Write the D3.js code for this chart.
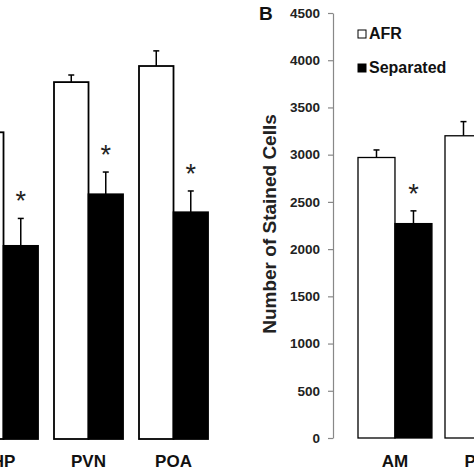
<!DOCTYPE html>
<html>
<head>
<meta charset="utf-8">
<script src="https://cdn.jsdelivr.net/npm/d3@7"></script>
<style>
 html, body { margin: 0; padding: 0; background: #fff; }
 svg { display: block; font-family: "Liberation Sans", Arial, sans-serif; }
</style>
</head>
<body>
<div id="chart"></div>
<script>
// panel A (left, cropped)
const regionsA = ["HP", "PVN", "POA"];
const afrA = [3240, 3770, 3940];
const afrErrA = [0, 75, 160];
const sepA = [2040, 2585, 2395];
const sepErrA = [290, 235, 225];

// panel B (right, cropped)
const regionsB = ["AM", "PVN"];
const afrB = [2970, 3200];
const afrErrB = [80, 150];
const sepB = [2270, 2500];
const sepErrB = [135, 150];

const groups = ["AFR", "Separated"];
const yTicks = [0, 500, 1000, 1500, 2000, 2500, 3000, 3500, 4000, 4500];

const width = 474, height = 474;

const svg = d3.select("#chart")
 .append("svg")
 .attr("width", width)
 .attr("height", height)
 .attr("viewBox", `0 0 ${width} ${height}`);

const drawPanel = (g, cats, afr, afrErr, sep, sepErr, x, y, stroke) => {
 const inner = d3.scaleBand().domain(groups).range([0, x.bandwidth()]);
 const rows = cats.map((c, i) => ({
  cat: c,
  vals: [
   { key: "AFR", v: afr[i], e: afrErr[i] },
   { key: "Separated", v: sep[i], e: sepErr[i] }
  ]
 }));

 const grp = g.selectAll(".grp").data(rows).enter()
  .append("g")
  .attr("transform", (d) => `translate(${x(d.cat)},0)`);

 const bars = grp.selectAll(".bar").data((d) => d.vals).enter();

 // error bars (upper only) drawn before bars
 bars.append("line")
  .attr("x1", (d) => inner(d.key) + inner.bandwidth() / 2)
  .attr("x2", (d) => inner(d.key) + inner.bandwidth() / 2)
  .attr("y1", (d) => y(d.v))
  .attr("y2", (d) => y(d.v + d.e))
  .attr("stroke", "#000")
  .attr("stroke-width", 1.5);
 bars.filter((d) => d.e > 0).append("line")
  .attr("x1", (d) => inner(d.key) + inner.bandwidth() / 2 - 3)
  .attr("x2", (d) => inner(d.key) + inner.bandwidth() / 2 + 3)
  .attr("y1", (d) => y(d.v + d.e))
  .attr("y2", (d) => y(d.v + d.e))
  .attr("stroke", "#000")
  .attr("stroke-width", 1.5);

 bars.append("rect")
  .attr("x", (d) => inner(d.key))
  .attr("width", inner.bandwidth())
  .attr("y", (d) => y(d.v))
  .attr("height", (d) => y(0) - y(d.v))
  .attr("fill", (d) => (d.key === "AFR" ? "#fff" : "#000"))
  .attr("stroke", "#000")
  .attr("stroke-width", stroke);

 // significance marks over Separated bars
 bars.filter((d) => d.key === "Separated").append("text")
  .attr("x", (d) => inner(d.key) + inner.bandwidth() / 2)
  .attr("y", (d) => y(d.v + d.e) - 8)
  .attr("text-anchor", "middle")
  .style("font-size", "27px")
  .style("fill", "#222")
  .text("*");

 g.selectAll(".cat").data(cats).enter()
  .append("text")
  .attr("x", (d) => x(d) + x.bandwidth() / 2)
  .attr("y", 467)
  .attr("text-anchor", "middle")
  .style("font-size", "17px")
  .style("font-weight", "bold")
  .style("fill", "#111")
  .text((d) => d);
};

// panel A
const yA = d3.scaleLinear().domain([0, 4500]).range([439, 13]);
const xA = d3.scaleBand().domain(regionsA).range([-31, -31 + 85 * (3 - 0.188)]).paddingInner(0.188).paddingOuter(0);
const gA = svg.append("g");
drawPanel(gA, regionsA, afrA, afrErrA, sepA, sepErrA, xA, yA, 1.8);

// panel B
const yB = d3.scaleLinear().domain([0, 4500]).range([438, 13]);
const xB = d3.scaleBand().domain(regionsB).range([358, 358 + 87 * (2 - 0.15)]).paddingInner(0.15).paddingOuter(0);
const gB = svg.append("g");
drawPanel(gB, regionsB, afrB, afrErrB, sepB, sepErrB, xB, yB, 1.3);

// y axis B
const axisB = gB.append("g")
 .attr("transform", "translate(333,0)")
 .call(d3.axisLeft(yB).tickValues(yTicks).tickFormat(d3.format("d")).tickSize(5).tickPadding(8).tickSizeOuter(0));
axisB.select(".domain").attr("stroke", "#888").attr("stroke-width", 1.2);
axisB.selectAll(".tick line").attr("stroke", "#888").attr("stroke-width", 1.2);
axisB.selectAll(".tick text")
 .style("font-size", "13.5px")
 .style("font-weight", "bold")
 .style("font-family", "'Liberation Sans', Arial, sans-serif")
 .attr("fill", "#222");

gB.append("text")
 .attr("transform", "translate(276,224) rotate(-90)")
 .attr("text-anchor", "middle")
 .style("font-size", "19px")
 .style("font-weight", "bold")
 .style("fill", "#222")
 .text("Number of Stained Cells");

// panel letter
svg.append("text")
 .attr("x", 259)
 .attr("y", 20)
 .style("font-size", "19px")
 .style("font-weight", "bold")
 .style("fill", "#111")
 .text("B");

// legend
const legend = gB.append("g").attr("transform", "translate(358,30)");
const leg = legend.selectAll(".leg").data(groups).enter()
 .append("g")
 .attr("transform", (d, i) => `translate(0,${i * 34})`);
leg.append("rect")
 .attr("width", 8)
 .attr("height", 8)
 .attr("fill", (d) => (d === "AFR" ? "#fff" : "#000"))
 .attr("stroke", "#000")
 .attr("stroke-width", 1);
leg.append("text")
 .attr("x", 11)
 .attr("y", 8.5)
 .style("font-size", "16px")
 .style("font-weight", "bold")
 .style("fill", "#111")
 .text((d) => d);
</script>
</body>
</html>
